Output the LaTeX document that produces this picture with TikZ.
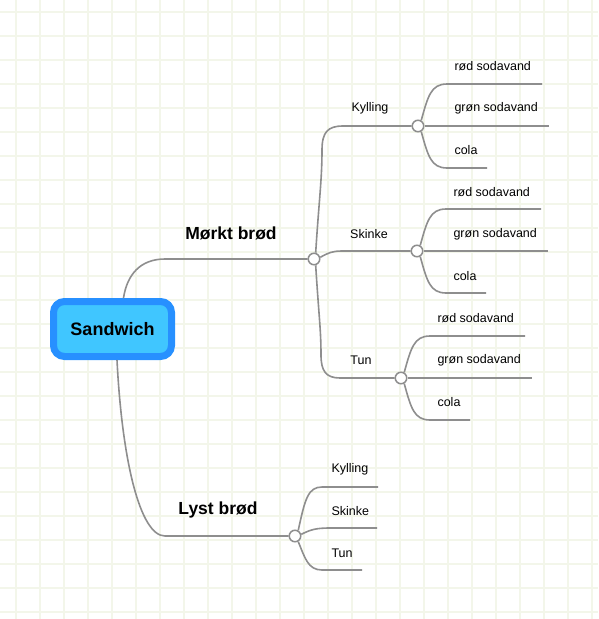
\documentclass[tikz,border=0pt]{standalone}
\usepackage{fontspec}
\setmainfont{Liberation Sans}
\usetikzlibrary{positioning}
\definecolor{gridc}{HTML}{F3F6EA}
\definecolor{linec}{HTML}{8E8E8E}
\definecolor{rootfill}{HTML}{40C6FF}
\definecolor{rootdraw}{HTML}{2790FF}

\begin{document}
\begin{tikzpicture}[
	x=1pt, y=-1pt,
  gridline/.style = {draw=gridc, line width=1.3pt},
  branch/.style = {draw=linec, line width=1.6pt},
  knot/.style = {draw=linec, fill=white, circle, line width=1.5pt, inner sep=0pt, minimum size=11.5pt},
  root/.style = {draw=rootdraw, fill=rootfill, line width=7pt, rounded corners=11pt, minimum width=118pt, minimum height=55pt, font=\fontsize{18}{20}\selectfont\bfseries},
  topic/.style = {font=\fontsize{17.5}{20}\selectfont\bfseries},
  sub/.style = {font=\fontsize{12.5}{15}\selectfont},
  leaf/.style = {font=\fontsize{12.5}{15}\selectfont, anchor=west}
  ]
	\useasboundingbox[fill=white] (0,0) rectangle (598,619);
	\foreach \x in {16,40,...,592} \draw[gridline] (\x,0) -- (\x,619);
	\foreach \y in {12,36,...,612} \draw[gridline] (0,\y) -- (598,\y);

	% nodes
	\node[root] (sw) at (112.5,329) {Sandwich};
	\node[knot] (mb) at (314,259) {};
	\node[knot] (lb) at (295,536) {};
	\node[knot] (ky) at (418,126) {};
	\node[knot] (sk) at (417,251) {};
	\node[knot] (tu) at (401,378) {};

	% free ends
	\coordinate (ky-r) at (542,84);
	\coordinate (ky-g) at (549,126);
	\coordinate (ky-c) at (487,168);
	\coordinate (sk-r) at (541,209);
	\coordinate (sk-g) at (548,251);
	\coordinate (sk-c) at (486,293);
	\coordinate (tu-r) at (525,336);
	\coordinate (tu-g) at (532,378);
	\coordinate (tu-c) at (470,420);
	\coordinate (lb-k) at (378,487);
	\coordinate (lb-s) at (377,528);
	\coordinate (lb-t) at (362,570);

	% main branches
	\draw[branch] ([xshift=11pt]sw.north) .. controls (127,275) and (140,259) .. (165,259) -- (mb.west);
	\draw[branch] ([xshift=4.5pt]sw.south) .. controls (122,460) and (140,536) .. (165,536) -- (lb.west);

	\draw[branch] (mb.75) .. controls (319,200) and (322,180) .. (322,150) .. controls (322,132) and (328,126) .. (343,126) -- (ky.west);
	\draw[branch] (mb.15) .. controls (328,253) and (332,251) .. (342,251) -- (sk.west);
	\draw[branch] (mb.-75) .. controls (319,318) and (321,330) .. (321,355) .. controls (321,371) and (326,378) .. (340,378) -- (tu.west);

	% leaves
	\draw[branch] (ky.60) .. controls (428,96) and (431,84) .. (447,84) -- (ky-r);
	\draw[branch] (ky.east) -- (ky-g);
	\draw[branch] (ky.-60) .. controls (428,156) and (431,168) .. (447,168) -- (ky-c);

	\draw[branch] (sk.60) .. controls (427,221) and (430,209) .. (446,209) -- (sk-r);
	\draw[branch] (sk.east) -- (sk-g);
	\draw[branch] (sk.-60) .. controls (427,281) and (430,293) .. (446,293) -- (sk-c);

	\draw[branch] (tu.60) .. controls (411,348) and (414,336) .. (430,336) -- (tu-r);
	\draw[branch] (tu.east) -- (tu-g);
	\draw[branch] (tu.-60) .. controls (411,408) and (414,420) .. (430,420) -- (tu-c);

	\draw[branch] (lb.60) .. controls (305,499) and (308,487) .. (322,487) -- (lb-k);
	\draw[branch] (lb.15) .. controls (310,530) and (315,528) .. (330,528) -- (lb-s);
	\draw[branch] (lb.-60) .. controls (305,558) and (308,570) .. (322,570) -- (lb-t);

	% labels
	\node[topic] (t-mb) at (231,233) {Mørkt brød};
	\node[topic] (t-lb) at (218,510) {Lyst brød};
	\node[sub] (t-ky) at (370,108) {Kylling};
	\node[sub] (t-sk) at (369,234) {Skinke};
	\node[sub] (t-tu) at (361,360) {Tun};

	\node[leaf] (t-ky-r) at (451,66) {rød sodavand};
	\node[leaf] (t-ky-g) at (451,108) {grøn sodavand};
	\node[leaf] (t-ky-c) at (451,150) {cola};
	\node[leaf] (t-sk-r) at (450,192) {rød sodavand};
	\node[leaf] (t-sk-g) at (450,234) {grøn sodavand};
	\node[leaf] (t-sk-c) at (450,276) {cola};
	\node[leaf] (t-tu-r) at (434,318) {rød sodavand};
	\node[leaf] (t-tu-g) at (434,360) {grøn sodavand};
	\node[leaf] (t-tu-c) at (434,402) {cola};
	\node[leaf] (t-lb-k) at (328,469) {Kylling};
	\node[leaf] (t-lb-s) at (328,511) {Skinke};
	\node[leaf] (t-lb-t) at (328,553) {Tun};

\end{tikzpicture}
\end{document}
